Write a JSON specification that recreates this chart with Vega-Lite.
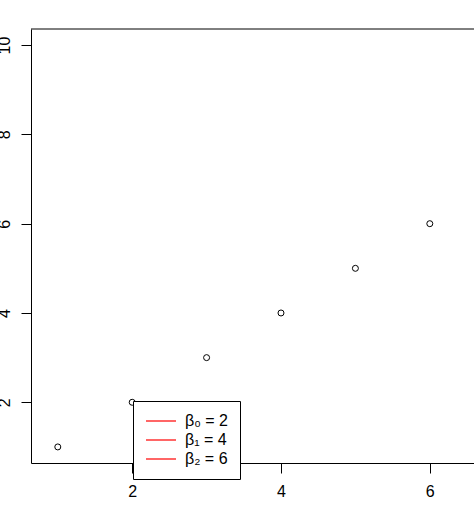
{
  "$schema": "https://vega.github.io/schema/vega-lite/v6.json",
  "autosize": "none",
  "width": 443,
  "height": 434,
  "padding": {"left": 31, "top": 29, "right": 0, "bottom": 42},
  "background": "white",
  "config": {
    "view": {"stroke": null},
    "font": "Liberation Sans",
    "axis": {
      "domainColor": "black",
      "tickColor": "black",
      "labelColor": "black",
      "labelFont": "Liberation Sans",
      "labelFontSize": 16,
      "tickSize": 10,
      "grid": false,
      "title": null
    }
  },
  "data": {
    "values": [
      {"x": 1, "y": 1},
      {"x": 2, "y": 2},
      {"x": 3, "y": 3},
      {"x": 4, "y": 4},
      {"x": 5, "y": 5},
      {"x": 6, "y": 6}
    ]
  },
  "layer": [
    {
      "mark": {"type": "point", "shape": "circle", "filled": false, "color": "black", "strokeWidth": 1, "size": 36, "opacity": 1},
      "encoding": {
        "x": {
          "field": "x", "type": "quantitative",
          "scale": {"domain": [0.64, 6.594], "nice": false, "zero": false},
          "axis": {"values": [2, 4, 6], "format": "d", "labelPadding": 10, "labelFlush": false, "labelOverlap": false}
        },
        "y": {
          "field": "y", "type": "quantitative",
          "scale": {"domain": [0.64, 10.36], "nice": false, "zero": false},
          "axis": {"values": [2, 4, 6, 8, 10], "format": "d", "labelAngle": 270, "labelAlign": "center", "labelBaseline": "alphabetic", "labelPadding": 12, "labelFlush": false, "labelOverlap": false}
        }
      }
    },
    {
      "data": {"values": [{}]},
      "mark": {"type": "rule", "color": "black", "strokeWidth": 1},
      "encoding": {"y": {"datum": 10.36}}
    },
    {
      "data": {"values": [{"label": "β₀ = 2"}, {"label": "β₁ = 4"}, {"label": "β₂ = 6"}]},
      "mark": {"type": "rule", "clip": true, "strokeWidth": 1},
      "encoding": {
        "x": {"datum": 50},
        "color": {
          "field": "label", "type": "nominal",
          "scale": {"domain": ["β₀ = 2", "β₁ = 4", "β₂ = 6"], "range": ["red", "red", "red"]},
          "legend": {
            "title": null,
            "orient": "none",
            "legendX": 102,
            "legendY": 372,
            "padding": 12,
            "strokeColor": "black",
            "fillColor": "white",
            "symbolType": "stroke",
            "symbolSize": 900,
            "symbolStrokeWidth": 1.2,
            "symbolStrokeColor": "red",
            "symbolOpacity": 1,
            "clipHeight": 16,
            "rowPadding": 3,
            "labelOffset": 8,
            "labelFont": "Liberation Sans",
            "labelFontSize": 16,
            "labelColor": "black",
            "labelLimit": 200
          }
        }
      }
    }
  ]
}
